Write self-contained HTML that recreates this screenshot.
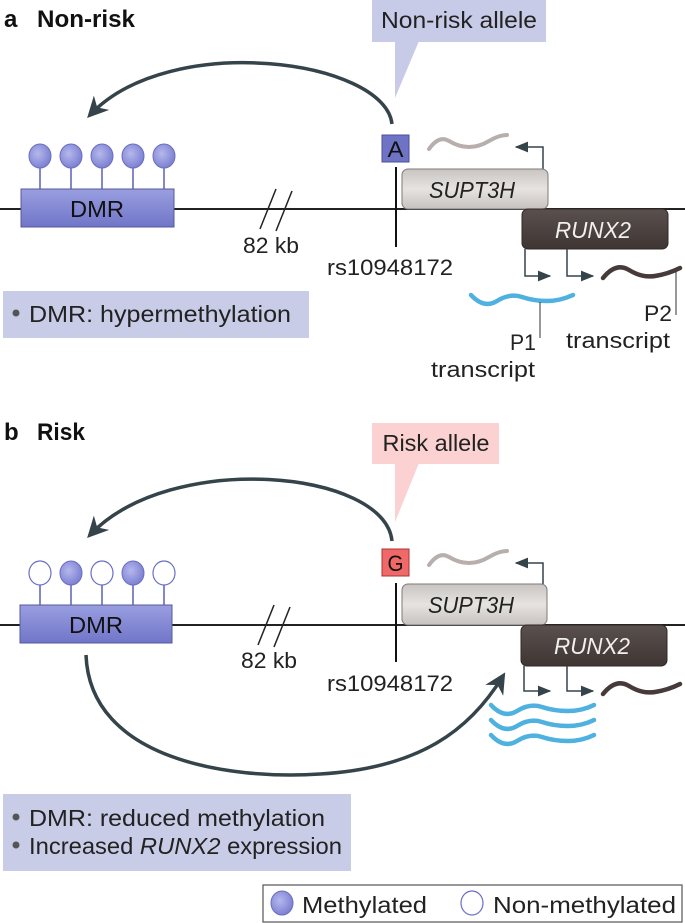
<!DOCTYPE html>
<html><head><meta charset="utf-8"><style>
html,body{margin:0;padding:0;background:#fff;}
svg{display:block;font-family:"Liberation Sans",sans-serif;}
</style></head><body>
<svg width="685" height="923" viewBox="0 0 685 923" xmlns="http://www.w3.org/2000/svg">
<defs>
<linearGradient id="dmr" x1="0" y1="0" x2="0" y2="1"><stop offset="0" stop-color="#9a9ee0"/><stop offset="1" stop-color="#7075c8"/></linearGradient>
<linearGradient id="sup" x1="0" y1="0" x2="0" y2="1"><stop offset="0" stop-color="#c9c4c1"/><stop offset="0.5" stop-color="#e6e3e1"/><stop offset="1" stop-color="#c7c2bf"/></linearGradient>
<linearGradient id="run" x1="0" y1="0" x2="0" y2="1"><stop offset="0" stop-color="#5a504d"/><stop offset="1" stop-color="#3f3634"/></linearGradient>
<radialGradient id="ball" cx="0.4" cy="0.4" r="0.6"><stop offset="0" stop-color="#b5b8ec"/><stop offset="1" stop-color="#7e82d2"/></radialGradient>
<marker id="ah" viewBox="0 0 10 10" refX="8" refY="5" markerWidth="6" markerHeight="6" orient="auto"><path d="M0,0 L10,5 L0,10 L3,5 z" fill="#34444a"/></marker>
<marker id="sa" viewBox="0 0 10 10" refX="9" refY="5" markerWidth="9" markerHeight="9" orient="auto"><path d="M0,1 L10,5 L0,9 z" fill="#34444a"/></marker>
</defs>

<!-- ===== Panel a ===== -->
<text x="4" y="27" font-size="24" font-weight="bold" fill="#111">a</text>
<text x="37" y="27" font-size="24" font-weight="bold" fill="#111" textLength="98" lengthAdjust="spacingAndGlyphs">Non-risk</text>
<rect x="372" y="0" width="174" height="42" fill="#c8cbe7"/>
<path d="M395,41 L419,41 L395,98 z" fill="#c8cbe7"/>
<text x="459" y="28" font-size="23" text-anchor="middle" fill="#222" textLength="156" lengthAdjust="spacingAndGlyphs">Non-risk allele</text>

<path d="M392,124 C385,60 170,30 90,115" fill="none" stroke="#34444a" stroke-width="3.5" marker-end="url(#ah)"/>

<line x1="0" y1="209" x2="685" y2="209" stroke="#222" stroke-width="2"/>
<g stroke="#5a5fb8" stroke-width="1.5">
<line x1="40" y1="160" x2="40" y2="189"/><line x1="71" y1="160" x2="71" y2="189"/><line x1="102" y1="160" x2="102" y2="189"/><line x1="133" y1="160" x2="133" y2="189"/><line x1="164" y1="160" x2="164" y2="189"/>
</g>
<g fill="url(#ball)" stroke="#6a6ec4" stroke-width="1">
<ellipse cx="40" cy="156" rx="11" ry="12"/><ellipse cx="71" cy="156" rx="11" ry="12"/><ellipse cx="102" cy="156" rx="11" ry="12"/><ellipse cx="133" cy="156" rx="11" ry="12"/><ellipse cx="164" cy="156" rx="11" ry="12"/>
</g>
<rect x="21" y="189" width="153" height="38" fill="url(#dmr)" stroke="#555a9e" stroke-width="1"/>
<text x="97" y="217" font-size="23" text-anchor="middle" fill="#111" textLength="54" lengthAdjust="spacingAndGlyphs">DMR</text>
<line x1="260" y1="229" x2="276" y2="189" stroke="#222" stroke-width="1.5"/><line x1="276" y1="231" x2="292" y2="191" stroke="#222" stroke-width="1.5"/>
<text x="271" y="253" font-size="22" text-anchor="middle" fill="#222" textLength="56" lengthAdjust="spacingAndGlyphs">82 kb</text>
<line x1="396" y1="167" x2="396" y2="247" stroke="#111" stroke-width="2"/>
<text x="390" y="275" font-size="22" text-anchor="middle" fill="#222" textLength="126" lengthAdjust="spacingAndGlyphs">rs10948172</text>
<rect x="382" y="135" width="27" height="27" fill="#6f73c6" stroke="#4b4f9a"/>
<text x="395.5" y="157" font-size="22" text-anchor="middle" fill="#111" textLength="16" lengthAdjust="spacingAndGlyphs">A</text>

<path d="M429,149 q10,-14 20,-8 t20,6 t20,-6 t18,-6" fill="none" stroke="#b6afab" stroke-width="4" stroke-linecap="round"/>
<path d="M543,169 L543,147 L516,147" fill="none" stroke="#34444a" stroke-width="1.5" marker-end="url(#sa)"/>
<rect x="402" y="169" width="146" height="40" rx="6" fill="url(#sup)" stroke="#7f7a77"/>
<text x="472" y="198" font-size="23" font-style="italic" text-anchor="middle" fill="#222" textLength="86" lengthAdjust="spacingAndGlyphs">SUPT3H</text>
<rect x="522" y="209" width="146" height="40" rx="6" fill="url(#run)" stroke="#2f2826"/>
<text x="593" y="238" font-size="23" font-style="italic" text-anchor="middle" fill="#f2efee" textLength="76" lengthAdjust="spacingAndGlyphs">RUNX2</text>
<path d="M525,249 L525,276 L550,276" fill="none" stroke="#34444a" stroke-width="1.5" marker-end="url(#sa)"/>
<path d="M567,249 L567,276 L593,276" fill="none" stroke="#34444a" stroke-width="1.5" marker-end="url(#sa)"/>
<path d="M603,278 q13,-16 26,-8 t26,6 t25,-8" fill="none" stroke="#463b38" stroke-width="4.5" stroke-linecap="round"/>
<path d="M471,295 q13,14 26,6 t25,-4 t25,4 t26,-6" fill="none" stroke="#4fb1df" stroke-width="4.5" stroke-linecap="round"/>
<line x1="540" y1="302" x2="540" y2="338" stroke="#333" stroke-width="1"/>
<line x1="676" y1="272" x2="676" y2="315" stroke="#333" stroke-width="1"/>
<text x="523" y="350" font-size="22" text-anchor="middle" fill="#222" textLength="26" lengthAdjust="spacingAndGlyphs">P1</text>
<text x="483" y="377" font-size="22" text-anchor="middle" fill="#222" textLength="104" lengthAdjust="spacingAndGlyphs">transcript</text>
<text x="658" y="321" font-size="22" text-anchor="middle" fill="#222" textLength="28" lengthAdjust="spacingAndGlyphs">P2</text>
<text x="618" y="348" font-size="22" text-anchor="middle" fill="#222" textLength="104" lengthAdjust="spacingAndGlyphs">transcript</text>
<rect x="3" y="291" width="306" height="47" fill="#c9cce7"/>
<circle cx="16" cy="313" r="3.5" fill="#555"/>
<text x="29" y="322" font-size="23" fill="#222" textLength="262" lengthAdjust="spacingAndGlyphs">DMR: hypermethylation</text>

<!-- ===== Panel b ===== -->
<text x="4" y="440" font-size="24" font-weight="bold" fill="#111">b</text>
<text x="37" y="440" font-size="24" font-weight="bold" fill="#111" textLength="48" lengthAdjust="spacingAndGlyphs">Risk</text>
<rect x="372" y="423" width="127" height="41" fill="#fbd1d1"/>
<path d="M395,463 L419,463 L395,522 z" fill="#fbd1d1"/>
<text x="436" y="451" font-size="23" text-anchor="middle" fill="#222" textLength="107" lengthAdjust="spacingAndGlyphs">Risk allele</text>

<path d="M392,541 C385,470 170,450 90,535" fill="none" stroke="#34444a" stroke-width="3.5" marker-end="url(#ah)"/>
<path d="M86,655 C90,760 230,780 320,774 C420,768 470,730 503,676" fill="none" stroke="#34444a" stroke-width="3.5" marker-end="url(#ah)"/>

<line x1="0" y1="625" x2="685" y2="625" stroke="#222" stroke-width="2"/>
<g stroke="#5a5fb8" stroke-width="1.5">
<line x1="40" y1="584" x2="40" y2="605"/><line x1="71" y1="584" x2="71" y2="605"/><line x1="102" y1="584" x2="102" y2="605"/><line x1="133" y1="584" x2="133" y2="605"/><line x1="164" y1="584" x2="164" y2="605"/>
</g>
<ellipse cx="40" cy="573" rx="11" ry="12" fill="#fff" stroke="#6a6ec4" stroke-width="1.2"/>
<ellipse cx="71" cy="573" rx="11" ry="12" fill="url(#ball)" stroke="#6a6ec4"/>
<ellipse cx="102" cy="573" rx="11" ry="12" fill="#fff" stroke="#6a6ec4" stroke-width="1.2"/>
<ellipse cx="133" cy="573" rx="11" ry="12" fill="url(#ball)" stroke="#6a6ec4"/>
<ellipse cx="164" cy="573" rx="11" ry="12" fill="#fff" stroke="#6a6ec4" stroke-width="1.2"/>
<rect x="20" y="605" width="152" height="38" fill="url(#dmr)" stroke="#555a9e" stroke-width="1"/>
<text x="96" y="633" font-size="23" text-anchor="middle" fill="#111" textLength="54" lengthAdjust="spacingAndGlyphs">DMR</text>
<line x1="258" y1="645" x2="274" y2="605" stroke="#222" stroke-width="1.5"/><line x1="274" y1="647" x2="290" y2="607" stroke="#222" stroke-width="1.5"/>
<text x="269" y="668" font-size="22" text-anchor="middle" fill="#222" textLength="56" lengthAdjust="spacingAndGlyphs">82 kb</text>
<line x1="396" y1="583" x2="396" y2="662" stroke="#111" stroke-width="2"/>
<text x="390" y="691" font-size="22" text-anchor="middle" fill="#222" textLength="126" lengthAdjust="spacingAndGlyphs">rs10948172</text>
<rect x="382" y="549" width="27" height="27" fill="#f06868" stroke="#a33"/>
<text x="395.5" y="571" font-size="22" text-anchor="middle" fill="#111" textLength="16" lengthAdjust="spacingAndGlyphs">G</text>

<path d="M429,565 q10,-14 20,-8 t20,6 t20,-6 t18,-6" fill="none" stroke="#b6afab" stroke-width="4" stroke-linecap="round"/>
<path d="M543,584 L543,563 L516,563" fill="none" stroke="#34444a" stroke-width="1.5" marker-end="url(#sa)"/>
<rect x="402" y="584" width="145" height="41" rx="6" fill="url(#sup)" stroke="#7f7a77"/>
<text x="471" y="613" font-size="23" font-style="italic" text-anchor="middle" fill="#222" textLength="86" lengthAdjust="spacingAndGlyphs">SUPT3H</text>
<rect x="521" y="625" width="146" height="41" rx="6" fill="url(#run)" stroke="#2f2826"/>
<text x="592" y="654" font-size="23" font-style="italic" text-anchor="middle" fill="#f2efee" textLength="76" lengthAdjust="spacingAndGlyphs">RUNX2</text>
<path d="M524,666 L524,691 L550,691" fill="none" stroke="#34444a" stroke-width="1.5" marker-end="url(#sa)"/>
<path d="M567,666 L567,691 L593,691" fill="none" stroke="#34444a" stroke-width="1.5" marker-end="url(#sa)"/>
<path d="M603,694 q13,-16 26,-8 t26,6 t25,-8" fill="none" stroke="#463b38" stroke-width="4.5" stroke-linecap="round"/>
<g fill="none" stroke="#4fb1df" stroke-width="4.5" stroke-linecap="round">
<path d="M491,705 q13,14 26,6 t25,-4 t26,4 t26,-6"/>
<path d="M491,720 q13,14 26,6 t25,-4 t26,4 t26,-6"/>
<path d="M491,735 q13,14 26,6 t25,-4 t26,4 t26,-6"/>
</g>
<rect x="3" y="794" width="348" height="77" fill="#c9cce7"/>
<circle cx="16" cy="817" r="3.5" fill="#555"/>
<text x="29" y="826" font-size="23" fill="#222" textLength="296" lengthAdjust="spacingAndGlyphs">DMR: reduced methylation</text>
<circle cx="16" cy="845" r="3.5" fill="#555"/>
<text x="29" y="854" font-size="23" fill="#222" textLength="313" lengthAdjust="spacingAndGlyphs">Increased <tspan font-style="italic">RUNX2</tspan> expression</text>

<rect x="263" y="885" width="419" height="37" fill="#fff" stroke="#555" stroke-width="1.2"/>
<ellipse cx="282" cy="903" rx="11" ry="12" fill="url(#ball)" stroke="#6a6ec4"/>
<text x="302" y="913" font-size="23" fill="#222" textLength="125" lengthAdjust="spacingAndGlyphs">Methylated</text>
<ellipse cx="472" cy="903" rx="11" ry="12" fill="#fff" stroke="#6a6ec4" stroke-width="1.2"/>
<text x="493" y="913" font-size="23" fill="#222" textLength="183" lengthAdjust="spacingAndGlyphs">Non-methylated</text>
</svg>
</body></html>
